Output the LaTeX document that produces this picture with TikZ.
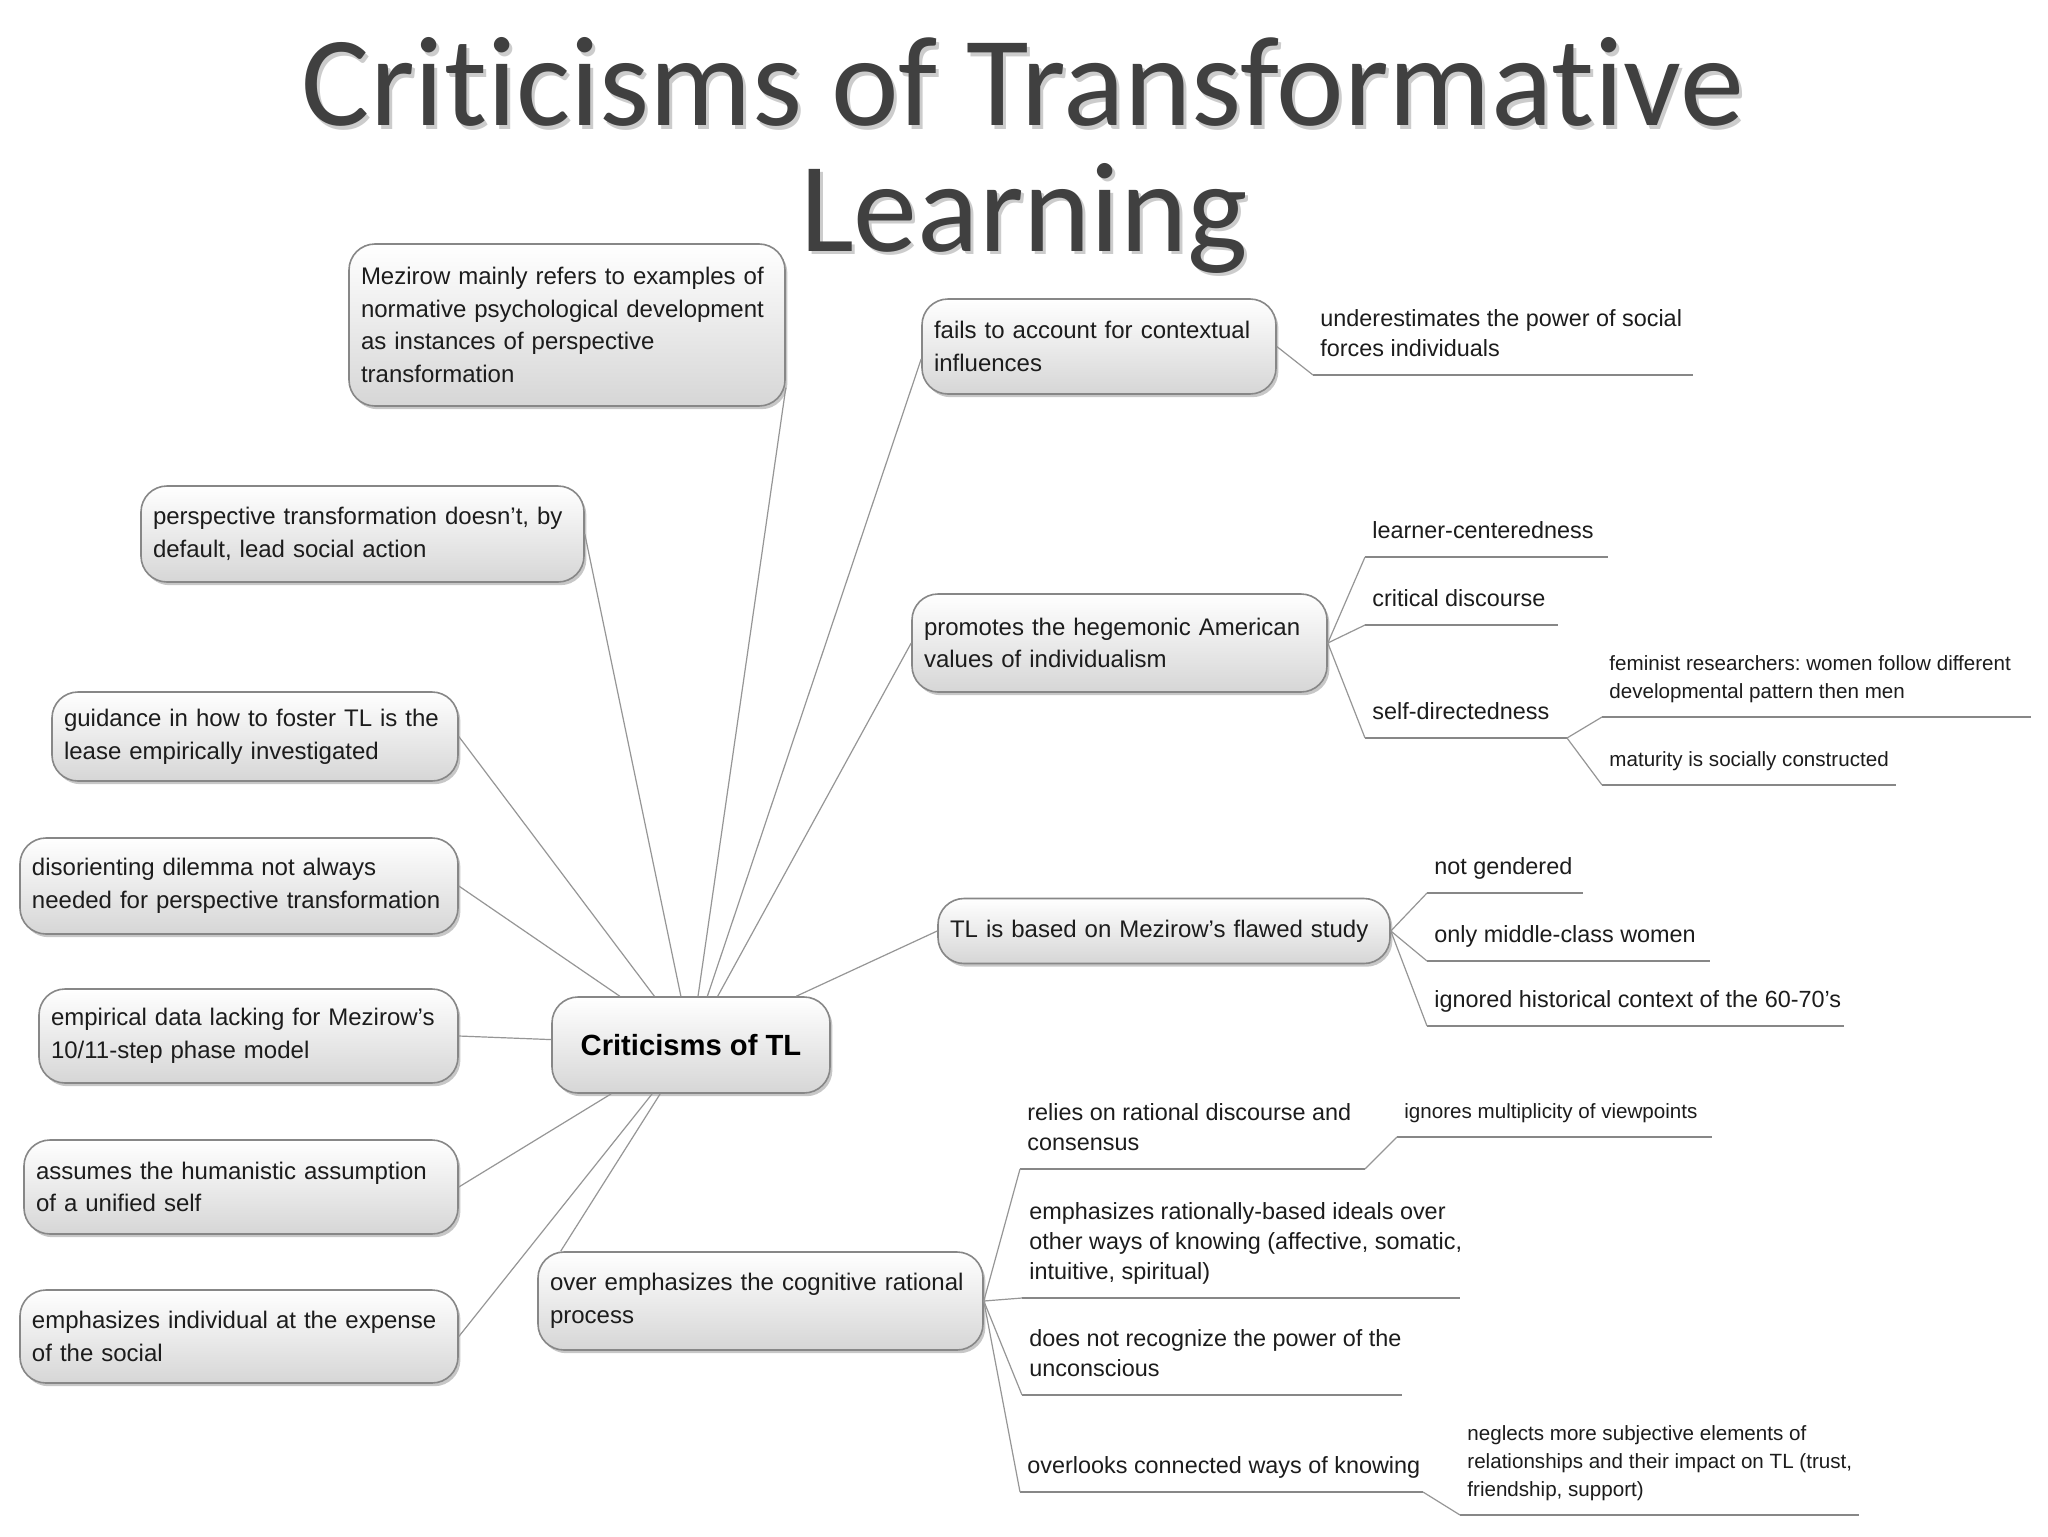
\documentclass[tikz,border=0pt]{standalone}
\usepackage{fontspec}
\setmainfont{Liberation Sans}
\newfontfamily\titlefont[Ligatures=NoCommon]{Carlito}
\usetikzlibrary{shadows}
\definecolor{boxline}{RGB}{135,135,135}
\definecolor{boxbot}{RGB}{214,214,214}
\definecolor{clink}{RGB}{150,150,150}
\definecolor{titlegray}{RGB}{64,64,64}
\definecolor{txt}{RGB}{28,28,28}
\newcommand\ld{\rule[-9pt]{0pt}{9pt}}
\frenchspacing
\hyphenpenalty=10000
\exhyphenpenalty=10000
\tikzset{
  bx/.style={rounded corners=13pt, draw=boxline, line width=0.8pt,
    top color=white, bottom color=boxbot,
    drop shadow={shadow xshift=1.2pt, shadow yshift=-1.6pt, opacity=0.22, fill=black},
    align=left, inner xsep=6pt, text=txt, font=\fontsize{12}{16.3}\selectfont\frenchspacing},
  leaf/.style={anchor=south west, align=left, inner xsep=3.5pt, inner ysep=0pt,
    text=txt, font=\fontsize{11.7}{15}\selectfont\frenchspacing},
  smallleaf/.style={leaf, font=\fontsize{10.3}{14}\selectfont\frenchspacing},
  uline/.style={draw=boxline, line width=1pt},
  link/.style={draw=clink, line width=0.6pt},
  ttl/.style={anchor=base, font=\titlefont\fontsize{64}{64}\selectfont},
}
\newcommand\ttlone{Crit\kern0pt icisms of Transformat\kern0pt ive}
\begin{document}
\begin{tikzpicture}[x=0.5pt, y=-0.5pt]
\fill[white] (0,0) rectangle (2048,1536);
\useasboundingbox (0,0) rectangle (2048,1536);

% title
\node[ttl, text=black!20] (t1s) at (1026,129) {\ttlone};
\node[ttl, text=black!20] (t2s) at (1027,254) {Learning};
\node[ttl, text=titlegray] (t1) at (1023,126) {\ttlone};
\node[ttl, text=titlegray] (t2) at (1024,251) {Learning};

% central node
\node[bx, align=center, minimum width=139pt, minimum height=48pt, text=black,
      font=\fontsize{14.6}{18}\selectfont\bfseries] (c) at (691,1045) {Criticisms of TL};

% left boxes
\node[bx, text width=206pt, minimum height=81pt] (mez) at (567,325)
  {Mezirow mainly refers to examples of\\normative psychological development\\as instances of perspective\\transformation};
\node[bx, text width=209.5pt, minimum height=48pt] (psp) at (362.5,534)
  {perspective transformation doesn't, by\\default, lead social action};
\node[bx, text width=191pt, minimum height=44.5pt] (gui) at (255,736.5)
  {guidance in how to foster TL is the\\lease empirically investigated};
\node[bx, text width=207pt, minimum height=48pt] (dis) at (239,886)
  {disorienting dilemma not always\\\mbox{needed for perspective transformation}};
\node[bx, text width=197.5pt, minimum height=47pt] (emp) at (248.5,1036)
  {empirical data lacking for Mezirow's\\10/11-step phase model};
\node[bx, text width=205pt, minimum height=47pt] (ass) at (241,1187)
  {assumes the humanistic assumption\\of a unified self};
\node[bx, text width=207pt, minimum height=46.5pt] (ind) at (239,1336.5)
  {emphasizes individual at the expense\\of the social};

% right boxes
\node[bx, text width=165pt, minimum height=47.5pt] (fai) at (1099,346.5)
  {fails to account for contextual\\influences};
\node[bx, text width=195.5pt, minimum height=49pt] (pro) at (1119.5,643)
  {promotes the hegemonic American\\values of individualism};
\node[bx, text width=214pt, minimum height=32.5pt] (tlb) at (1164,931)
  {TL is based on Mezirow's flawed study};
\node[bx, text width=210.5pt, minimum height=49pt] (ovr) at (760.5,1301)
  {over emphasizes the cognitive rational\\process};

% leaves
\node[leaf] (und) at (1313,375) {underestimates the power of social\\forces individuals\ld};
\draw[uline] (und.south west) -- ++(380,0) coordinate (und-e);

\node[leaf] (lrn) at (1365,557) {learner-centeredness\ld};
\draw[uline] (lrn.south west) -- ++(243,0) coordinate (lrn-e);
\node[leaf] (cri) at (1365,625) {critical discourse\ld};
\draw[uline] (cri.south west) -- ++(193,0) coordinate (cri-e);
\node[leaf] (sel) at (1365,738) {self-directedness\ld};
\draw[uline] (sel.south west) -- ++(202,0) coordinate (sel-e);
\node[smallleaf] (fem) at (1602,717) {feminist researchers: women follow different\\developmental pattern then men\ld};
\draw[uline] (fem.south west) -- ++(429,0) coordinate (fem-e);
\node[smallleaf] (mat) at (1602,785) {maturity is socially constructed\ld};
\draw[uline] (mat.south west) -- ++(294,0) coordinate (mat-e);

\node[leaf] (gen) at (1427,893) {not gendered\ld};
\draw[uline] (gen.south west) -- ++(156,0) coordinate (gen-e);
\node[leaf] (mid) at (1427,961) {only middle-class women\ld};
\draw[uline] (mid.south west) -- ++(283,0) coordinate (mid-e);
\node[leaf] (his) at (1427,1026) {ignored historical context of the 60-70's\ld};
\draw[uline] (his.south west) -- ++(417,0) coordinate (his-e);

\node[leaf] (rel) at (1020,1169) {relies on rational discourse and\\consensus\ld};
\draw[uline] (rel.south west) -- ++(345,0) coordinate (rel-e);
\node[smallleaf] (ign) at (1397,1137) {ignores multiplicity of viewpoints\ld};
\draw[uline] (ign.south west) -- ++(315,0) coordinate (ign-e);
\node[leaf] (rat) at (1022,1298) {emphasizes rationally-based ideals over\\other ways of knowing (affective, somatic,\\intuitive, spiritual)\ld};
\draw[uline] (rat.south west) -- ++(438,0) coordinate (rat-e);
\node[leaf] (unc) at (1022,1395) {does not recognize the power of the\\unconscious\ld};
\draw[uline] (unc.south west) -- ++(380,0) coordinate (unc-e);
\node[leaf] (ovl) at (1020,1492) {overlooks connected ways of knowing\ld};
\draw[uline] (ovl.south west) -- ++(403,0) coordinate (ovl-e);
\node[smallleaf] (neg) at (1460,1515) {neglects more subjective elements of\\relationships and their impact on TL (trust,\\friendship, support)\ld};
\draw[uline] (neg.south west) -- ++(399,0) coordinate (neg-e);

% connectors from centre
\draw[link] (c) -- (mez.-16);
\draw[link] (c) -- (psp.east);
\draw[link] (c) -- (gui.east);
\draw[link] (c) -- (dis.east);
\draw[link] (c) -- (emp.east);
\draw[link] (c) -- (ass.east);
\draw[link] (c) -- (ind.east);
\draw[link] (c) -- (fai.184);
\draw[link] (c) -- (pro.west);
\draw[link] (c) -- (tlb.west);
\draw[link] (c) -- (ovr.166);

% sub-branches
\draw[link] (fai.east) -- (und.south west);
\draw[link] (pro.east) -- (lrn.south west);
\draw[link] (pro.east) -- (cri.south west);
\draw[link] (pro.east) -- (sel.south west);
\draw[link] (sel-e) -- (fem.south west);
\draw[link] (sel-e) -- (mat.south west);
\draw[link] (tlb.east) -- (gen.south west);
\draw[link] (tlb.east) -- (mid.south west);
\draw[link] (tlb.east) -- (his.south west);
\draw[link] (ovr.east) -- (rel.south west);
\draw[link] (ovr.east) -- (rat.south west);
\draw[link] (ovr.east) -- (unc.south west);
\draw[link] (ovr.east) -- (ovl.south west);
\draw[link] (rel-e) -- (ign.south west);
\draw[link] (ovl-e) -- (neg.south west);
\end{tikzpicture}
\end{document}
